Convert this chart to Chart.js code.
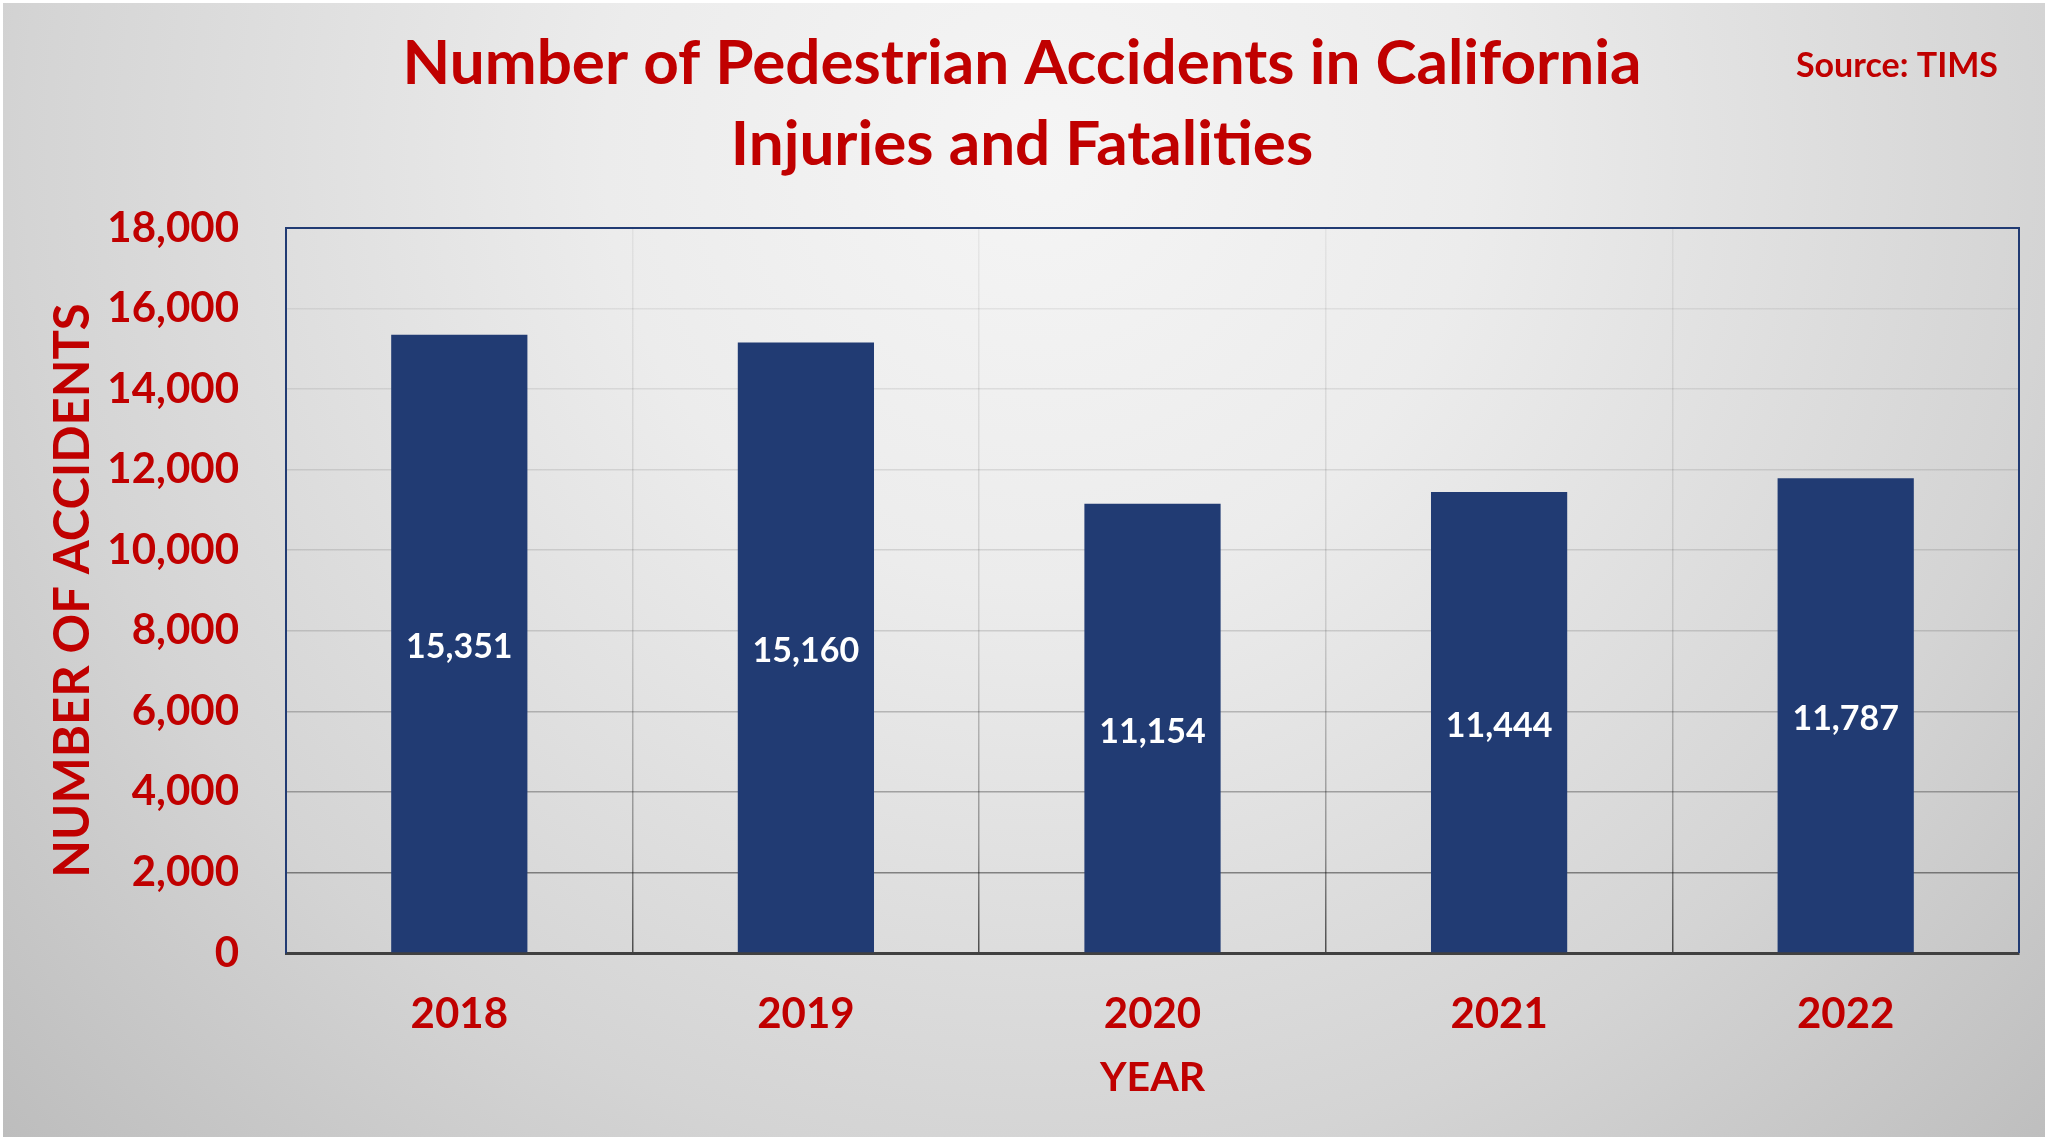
<!DOCTYPE html>
<html>
<head>
<meta charset="utf-8">
<title>Pedestrian Accidents in California</title>
<script src="https://cdn.jsdelivr.net/npm/chart.js@4"></script>
<style>
    html, body { margin: 0; padding: 0; background: #ffffff; }
    #wrap { width: 2048px; height: 1141px; position: relative; }
</style>
</head>
<body>
<div id="wrap"><canvas id="accidentsChart"></canvas></div>
<script>
// Data
const years = ['2018', '2019', '2020', '2021', '2022'];
const accidents = [15351, 15160, 11154, 11444, 11787];
const yMin = 0;
const yMax = 18000;
const yStep = 2000;

const titleLines = ['Number of Pedestrian Accidents in California', 'Injuries and Fatalities'];
const sourceText = 'Source: TIMS';
const yTitle = 'NUMBER OF ACCIDENTS';
const xTitle = 'YEAR';

const RED = '#c00000';
const NAVY = '#213b73';
const FONT = 'Lato, "Open Sans", sans-serif';

// Gradient for gridlines: light at top, darker towards the axis
function gridGradient(chart) {
    const area = chart.chartArea;
    if (!area) return '#c0c0c0';
    const g = chart.ctx.createLinearGradient(0, area.top, 0, area.bottom);
    g.addColorStop(0, 'rgba(0,0,0,0.05)');
    g.addColorStop(0.55, 'rgba(0,0,0,0.13)');
    g.addColorStop(0.85, 'rgba(0,0,0,0.35)');
    g.addColorStop(1, 'rgba(0,0,0,0.65)');
    return g;
}

// Background, titles, frame and value labels
const decorPlugin = {
    id: 'decor',
    beforeDraw(chart) {
        const ctx = chart.ctx;
        const w = chart.width, h = chart.height;
        ctx.save();
        ctx.fillStyle = '#ffffff';
        ctx.fillRect(0, 0, w, h);
        const g = ctx.createRadialGradient(1040, 150, 0, 1040, 150, 1450);
        g.addColorStop(0, '#f5f5f5');
        g.addColorStop(0.3, '#ececec');
        g.addColorStop(0.7, '#d4d4d4');
        g.addColorStop(1, '#bcbcbc');
        ctx.fillStyle = g;
        ctx.fillRect(3, 3, w - 6, h - 7);
        ctx.restore();
    },
    beforeDatasetsDraw(chart) {
        const ctx = chart.ctx;
        const a = chart.chartArea;
        ctx.save();
        ctx.strokeStyle = NAVY;
        ctx.lineWidth = 2;
        ctx.beginPath();
        ctx.moveTo(a.left, a.bottom);
        ctx.lineTo(a.left, a.top);
        ctx.lineTo(a.right, a.top);
        ctx.lineTo(a.right, a.bottom);
        ctx.stroke();
        ctx.restore();
    },
    afterDatasetsDraw(chart) {
        const ctx = chart.ctx;
        const meta = chart.getDatasetMeta(0);
        ctx.save();
        ctx.fillStyle = '#ffffff';
        ctx.font = 'bold 34px ' + FONT;
        ctx.textAlign = 'center';
        ctx.textBaseline = 'middle';
        meta.data.forEach((bar, i) => {
            const p = bar.getProps(['x', 'y', 'base'], true);
            ctx.fillText(accidents[i].toLocaleString('en-US'), p.x, (p.y + p.base) / 2 + 4);
        });
        ctx.restore();
    },
    afterDraw(chart) {
        const ctx = chart.ctx;
        ctx.save();
        ctx.fillStyle = RED;
        ctx.textAlign = 'center';
        ctx.textBaseline = 'middle';
        ctx.font = 'bold 62px ' + FONT;
        ctx.fillText(titleLines[0], 1022, 64);
        ctx.fillText(titleLines[1], 1022, 145);
        ctx.font = 'bold 34px ' + FONT;
        ctx.textAlign = 'right';
        ctx.fillText(sourceText, 1998, 66);
        ctx.restore();
    }
};

const chartCtx = document.getElementById('accidentsChart').getContext('2d');
const accidentsChart = new Chart(chartCtx, {
    type: 'bar',
    data: {
        labels: years,
        datasets: [{
            label: 'Accidents',
            data: accidents,
            backgroundColor: NAVY,
            borderWidth: 0,
            categoryPercentage: 1,
            barPercentage: 0.393
        }]
    },
    options: {
        responsive: true,
        maintainAspectRatio: false,
        animation: false,
        devicePixelRatio: 1,
        layout: {
            padding: { top: 228, right: 29, left: 0, bottom: 0 }
        },
        plugins: {
            legend: { display: false },
            title: { display: false },
            tooltip: { enabled: false }
        },
        scales: {
            x: {
                offset: true,
                grid: {
                    offset: true,
                    drawTicks: false,
                    color: ctx => gridGradient(ctx.chart),
                    lineWidth: 1.5
                },
                border: { display: true, color: '#404040', width: 3 },
                ticks: {
                    color: RED,
                    padding: 36,
                    font: { family: FONT, size: 42, weight: 'bold' }
                },
                title: {
                    display: true,
                    text: xTitle,
                    color: RED,
                    padding: { top: 0, bottom: 39 },
                    font: { family: FONT, size: 41, weight: 'bold' }
                },
                afterFit: scale => { scale.height = 188; }
            },
            y: {
                min: yMin,
                max: yMax,
                grid: {
                    drawTicks: false,
                    color: ctx => gridGradient(ctx.chart),
                    lineWidth: 1.5
                },
                border: { display: true, color: NAVY, width: 2 },
                ticks: {
                    stepSize: yStep,
                    color: RED,
                    padding: 47,
                    font: { family: FONT, size: 42, weight: 'bold' },
                    callback: v => v.toLocaleString('en-US')
                },
                title: {
                    display: true,
                    text: yTitle,
                    color: RED,
                    padding: { top: 44, bottom: 0 },
                    font: { family: FONT, size: 49, weight: 'bold' }
                },
                afterFit: scale => { scale.width = 286; }
            }
        }
    },
    plugins: [decorPlugin]
});
</script>
</body>
</html>
